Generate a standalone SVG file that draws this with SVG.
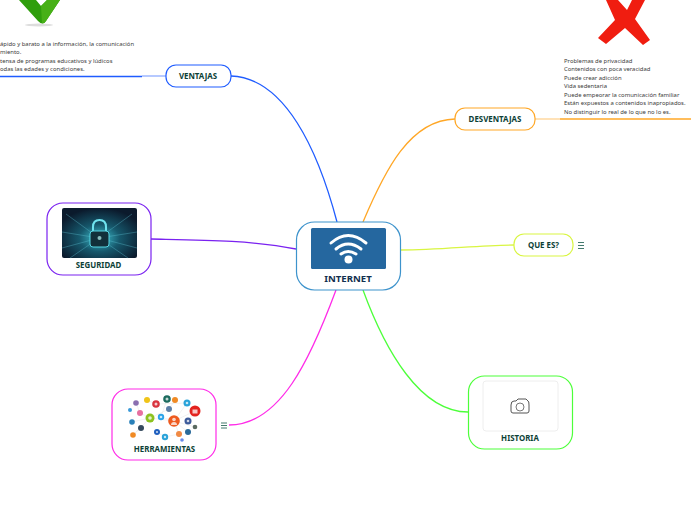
<svg xmlns="http://www.w3.org/2000/svg" width="696" height="520" viewBox="0 0 696 520">
<style>
.l{font-family:"Noto Sans","Open Sans",sans-serif;font-size:7.9px;font-weight:700;fill:#0d3f36;text-anchor:middle}
.t{font-family:"Noto Sans","Open Sans",sans-serif;font-size:5.9px;fill:#3a3a3a}
.c{fill:none;stroke-width:1.3}
.n{fill:#fff;stroke-width:1.2}
.m{stroke:#2f6b5e;stroke-width:.9}
.e{fill:none;stroke:#ddd;stroke-width:.4}
.w{fill:#fff;opacity:.75}
</style>
<defs>
<radialGradient id="glow" cx=".5" cy=".6" r=".6"><stop offset="0" stop-color="#3fc4d4"/><stop offset=".45" stop-color="#16586c"/><stop offset="1" stop-color="#0b1a2c"/></radialGradient>
</defs>
<rect width="696" height="520" fill="#fff"/>
<g id="connectors">
<path class="c" stroke="#1f5cff" d="M337 222C318 150 285 78 231 76"/>
<path class="c" stroke="#1f5cff" d="M142 76H166" opacity=".5"/>
<path stroke="#1f5cff" stroke-width="1.4" d="M0 76.500H142"/>
<path class="c" stroke="#ffa726" d="M363 222C385 170 410 120 455 119"/>
<path class="c" stroke="#ffa726" d="M535 119H560" opacity=".5"/>
<path stroke="#ffa726" stroke-width="1.4" d="M560 119H691"/>
<path class="c" stroke="#d9f542" stroke-width="1.500" d="M401 250C440 250 480 245 514 245"/>
<path class="c" stroke="#7a22f0" d="M296 249C250 240 200 240 151 239"/>
<path class="c" stroke="#ff2be8" d="M336 290C310 360 280 425 229 425"/>
<path class="c" stroke="#4dff3a" d="M363 290C385 350 420 412 468 412"/>
</g>
<g id="ventajas-notes">
<text class="t" x="0" y="46">ápido y barato a la información, la comunicación</text>
<text class="t" x="0" y="54">miento.</text>
<text class="t" x="0" y="63">tensa de programas educativos y lúdicos</text>
<text class="t" x="0" y="71">odas las edades y condiciones.</text>
<ellipse cx="39" cy="25" rx="14" ry="1.500" fill="#ddd"/>
<path d="M19 0L38 21Q43 26 46 21L60 0H47L41 6 36 0Z" fill="#2f9e0c"/>
<path d="M41 6L47 0H60L46 21Q44 24 42 23Z" fill="#47b017"/>
</g>
<g id="ventajas"><rect class="n" stroke="#1f5cff" x="166" y="65" width="65" height="22" rx="10"/><text class="l" x="198" y="79">VENTAJAS</text></g>
<g id="desventajas-notes">
<path d="M606 0H618L627 10 632 0H645L635 19 650 40 643 45 625 28 606 44 598 38 615 20Z" fill="#f01d10"/>
<text class="t" x="564" y="63">Problemas de privacidad</text>
<text class="t" x="564" y="71">Contenidos con poca veracidad</text>
<text class="t" x="564" y="80">Puede crear adicción</text>
<text class="t" x="564" y="88">Vida sedentaria</text>
<text class="t" x="564" y="97">Puede empeorar la comunicación familiar</text>
<text class="t" x="564" y="105">Están expuestos a contenidos inapropiados.</text>
<text class="t" x="564" y="114">No distinguir lo real de lo que no lo es.</text>
</g>
<g id="desventajas"><rect class="n" stroke="#ffa726" x="455" y="108" width="80" height="22" rx="10"/><text class="l" x="495" y="122">DESVENTAJAS</text></g>
<g id="quees"><rect class="n" stroke="#d9f542" x="514" y="234" width="59" height="22" rx="10"/><text class="l" x="543.500" y="248">QUE ES?</text><path class="m" d="M578 242.500h6M578 245.500h6M578 248.500h6"/></g>
<g id="internet">
<rect class="n" stroke="#3d93cc" x="296.500" y="222" width="104" height="68" rx="18"/>
<rect x="311" y="228" width="75" height="41" rx="1.500" fill="#25679f"/>
<g fill="none" stroke="#fff" stroke-width="3" stroke-linecap="round"><path d="M331 243Q348 228 366 243"/><path d="M336 249Q348 239 361 249"/><path d="M341 254Q348 249 356 254"/></g>
<circle cx="348.500" cy="259.500" r="4" fill="#fff"/>
<text x="348" y="282" font-family="Noto Sans,sans-serif" font-size="9.600" font-weight="700" fill="#12304f" text-anchor="middle">INTERNET</text>
</g>
<g id="seguridad">
<rect class="n" stroke="#7a22f0" x="47" y="203" width="104" height="72" rx="16"/>
<rect x="62" y="208" width="75" height="50" rx="2" fill="url(#glow)"/>
<path d="M66 214L99 238 132 214M62 232L99 238 137 232M70 258L99 238 128 258M62 248L99 238 137 248" stroke="#5ec3d6" stroke-width=".6" fill="none" opacity=".6"/>
<path d="M93 234V227Q93 220 99.500 220 106 220 106 227V234" fill="none" stroke="#6fe3ef" stroke-width="2"/>
<rect x="90" y="231" width="19" height="16" rx="3" fill="#12303a" stroke="#57d5e2" stroke-width="1"/>
<circle cx="99.500" cy="238" r="2" fill="#8bb"/>
<text class="l" x="98.500" y="268">SEGURIDAD</text>
</g>
<g id="herramientas">
<rect class="n" stroke="#ff2be8" x="112" y="389" width="104" height="71" rx="16"/>
<path class="e" d="M174 421L150 418 140 413 136 403M174 421L161 417 167 399M174 421L195 411 188 421M174 421L179 434 165 437 157 432M174 421L195 427M150 418L133 435 141 428M174 421L187 403 156 404 147 400M132 422L150 418 169 409 175 400M188 432L174 421"/>
<circle cx="136" cy="403" r="2.800" fill="#8a6fb0"/><circle cx="147" cy="400" r="3" fill="#f0c419"/><circle cx="156" cy="404" r="3.800" fill="#d9343f"/><circle cx="167" cy="399" r="3.800" fill="#1c6b5e"/><circle cx="175" cy="400" r="3" fill="#f08a24"/><circle cx="187" cy="403" r="3.500" fill="#2aa3d9"/><circle cx="195" cy="411" r="5.500" fill="#e3231f"/><circle cx="130" cy="410" r="2" fill="#3a9ad9"/><circle cx="140" cy="413" r="3" fill="#e76fa0"/><circle cx="150" cy="418" r="4.500" fill="#8cc21f"/><circle cx="161" cy="417" r="3.200" fill="#2aa3e9"/><circle cx="169" cy="409" r="3" fill="#5c7fa8"/><circle cx="174" cy="421" r="5.800" fill="#ee5a1f"/><circle cx="188" cy="421" r="3.500" fill="#3c5a9a"/><circle cx="195" cy="427" r="2.300" fill="#5a6a60"/><circle cx="132" cy="422" r="2.800" fill="#2a80b9"/><circle cx="141" cy="428" r="3" fill="#34495e"/><circle cx="157" cy="432" r="3" fill="#1f5fbf"/><circle cx="133" cy="435" r="2.800" fill="#f08a24"/><circle cx="165" cy="437" r="3.200" fill="#2aa3d9"/><circle cx="179" cy="434" r="3" fill="#f08a44"/><circle cx="188" cy="432" r="3" fill="#2a6a9a"/><circle cx="182" cy="440" r="1.800" fill="#6a8ae9"/>
<g class="w"><circle cx="174" cy="419.500" r="1.800"/><path d="M171 425a3 3 0 0 1 6 0z"/><circle cx="156" cy="404" r="1.500"/><circle cx="167" cy="399" r="1.500"/><circle cx="187" cy="403" r="1.300"/><rect x="192.500" y="409.500" width="5" height="4"/><circle cx="150" cy="418" r="1.800"/><circle cx="161" cy="417" r="1.300"/><circle cx="188" cy="421" r="1.300"/><circle cx="165" cy="437" r="1.200"/><circle cx="157" cy="432" r="1.100"/></g>
<text class="l" x="164.500" y="452">HERRAMIENTAS</text>
<path class="m" d="M221 423h6M221 425.500h6M221 428h6"/>
</g>
<g id="historia">
<rect class="n" stroke="#4dff3a" x="468.500" y="376" width="104" height="73" rx="16"/>
<rect x="483" y="381" width="75" height="50" rx="3" fill="#fff" stroke="#eee"/>
<path d="M511 405Q511 401 514 401H516L518 399H526L528 401Q529 401 529 405V411Q529 413 527 413H513Q511 413 511 411Z" fill="none" stroke="#555" stroke-width="1"/>
<circle cx="520" cy="407" r="4" fill="none" stroke="#555" stroke-width=".8"/>
<text class="l" x="520" y="441">HISTORIA</text>
</g>
</svg>
